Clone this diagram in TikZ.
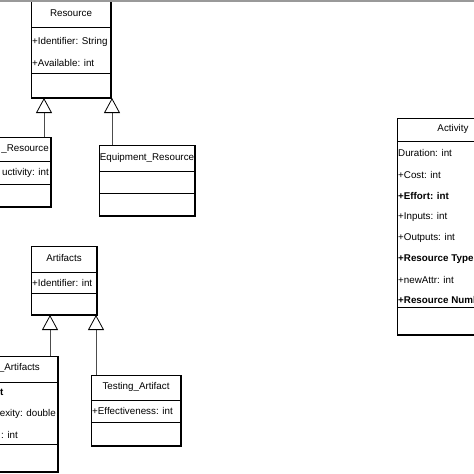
\documentclass[tikz,border=0pt]{standalone}
\usepackage{fontspec}
\setmainfont{Liberation Sans}
\usetikzlibrary{arrows.meta}
\begin{document}
\begin{tikzpicture}[x=1pt,y=-1pt,
  cls/.style={draw=black,fill=white,line width=0.8pt,inner sep=0pt,outer sep=0pt,rectangle},
  shd/.style={line width=1.8pt,line cap=rect},
  sep/.style={line width=0.8pt},
  txt/.style={inner sep=0pt,font=\fontsize{9.8}{11}\selectfont},
  btxt/.style={txt,font=\fontsize{9.8}{11}\selectfont\bfseries},
  gen/.style={draw=black!70,line width=0.9pt,-{Triangle[open,length=15pt,width=16pt,color=black,line width=0.8pt]}}]
\useasboundingbox (0,0) rectangle (474,474);
\begin{scope}
\clip (0,0) rectangle (474,474);
\fill[white] (0,0) rectangle (474,474);
% class boxes
\node[cls,minimum width=80pt,minimum height=101pt] (res) at (71,47.5) {};
\node[cls,minimum width=83pt,minimum height=70pt] (hum) at (9.5,172) {};
\node[cls,minimum width=96pt,minimum height=71pt] (equ) at (147,180.5) {};
\node[cls,minimum width=66pt,minimum height=69pt] (art) at (64,280.5) {};
\node[cls,minimum width=98pt,minimum height=116pt] (code) at (9,414) {};
\node[cls,minimum width=90pt,minimum height=71pt] (test) at (136,410.5) {};
\node[cls,minimum width=113pt,minimum height=217pt] (act) at (453.5,226.5) {};
% shadow edges
\foreach \b in {res,hum,equ,art,code,test,act}{
  \draw[shd] ([xshift=1pt]\b.south west) -- (\b.south east) -- ([yshift=-1pt]\b.north east);
}
% separators
\draw[sep] (res.west |- 0,27) -- (res.east |- 0,27);
\draw[sep] (res.west |- 0,73) -- (res.east |- 0,73);
\draw[sep] (hum.west |- 0,161) -- (hum.east |- 0,161);
\draw[sep] (hum.west |- 0,184) -- (hum.east |- 0,184);
\draw[sep] (equ.west |- 0,171) -- (equ.east |- 0,171);
\draw[sep] (equ.west |- 0,193) -- (equ.east |- 0,193);
\draw[sep] (art.west |- 0,272) -- (art.east |- 0,272);
\draw[sep] (art.west |- 0,293) -- (art.east |- 0,293);
\draw[sep] (code.west |- 0,382) -- (code.east |- 0,382);
\draw[sep] (code.west |- 0,444) -- (code.east |- 0,444);
\draw[sep] (test.west |- 0,400) -- (test.east |- 0,400);
\draw[sep] (test.west |- 0,422) -- (test.east |- 0,422);
\draw[sep] (act.west |- 0,141) -- (act.east |- 0,141);
\draw[sep] (act.west |- 0,307) -- (act.east |- 0,307);
% generalisations
\coordinate (g1) at (44,0);
\coordinate (g2) at (112,0);
\coordinate (g3) at (50,0);
\coordinate (g4) at (96,0);
\draw[gen] (hum.north -| g1) -- (res.south -| g1);
\draw[gen] (equ.north -| g2) -- (res.south -| g2);
\draw[gen] (code.north -| g3) -- (art.south -| g3);
\draw[gen] (test.north -| g4) -- (art.south -| g4);
% texts
\node[txt] (t1) at (71,13) {Resource};
\node[txt,anchor=west] (t2) at (32,42) {+Identifier: String};
\node[txt,anchor=west] (t3) at (32,63) {+Available: int};
\node[txt,anchor=east] (t4) at (49,149) {\_Resource};
\node[txt,anchor=east] (t5) at (49,173) {uctivity: int};
\node[txt] (t6) at (147,158) {Equipment\_Resource};
\node[txt] (t7) at (64,258) {Artifacts};
\node[txt,anchor=west] (t8) at (32,283) {+Identifier: int};
\node[txt,anchor=east] (t9) at (40,368) {\_Artifacts};
\node[btxt,anchor=west] (t10) at (0,392) {t};
\node[txt,anchor=east] (t11) at (56,414) {exity: double};
\node[txt,anchor=west] (t12) at (1,435) {: int};
\node[txt] (t13) at (136,387) {Testing\_Artifact};
\node[txt,anchor=west] (t14) at (92,411) {+Effectiveness: int};
\node[txt] (t15) at (453,129) {Activity};
\node[txt,anchor=west] (a1) at (398,153) {Duration: int};
\node[txt,anchor=west] (a2) at (398,175) {+Cost: int};
\node[btxt,anchor=west] (a3) at (398,196) {+Effort: int};
\node[txt,anchor=west] (a4) at (398,217) {+Inputs: int};
\node[txt,anchor=west] (a5) at (398,238) {+Outputs: int};
\node[btxt,anchor=west] (a6) at (398,259) {+Resource Type};
\node[txt,anchor=west] (a7) at (398,280) {+newAttr: int};
\node[btxt,anchor=west] (a8) at (398,300) {+Resource Numb};
% top band
\fill[black!40] (0,0) rectangle (474,2);
\end{scope}
\end{tikzpicture}
\end{document}
